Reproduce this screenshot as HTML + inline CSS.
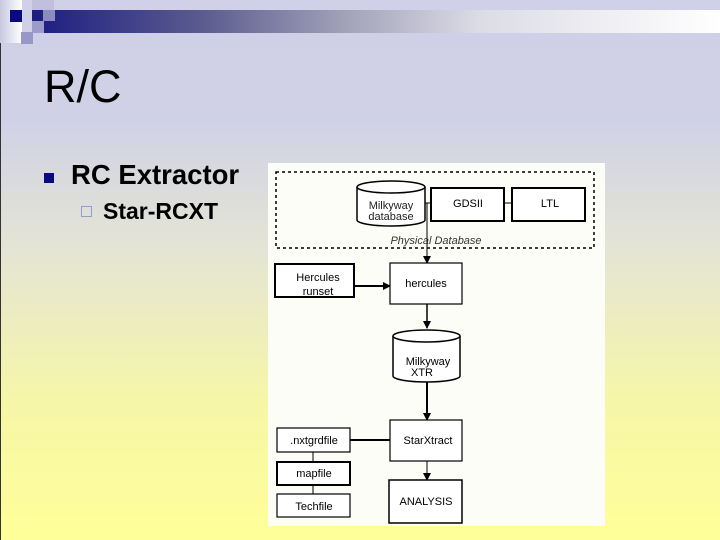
<!DOCTYPE html>
<html><head><meta charset="utf-8"><style>
html,body{margin:0;padding:0}
body{width:720px;height:540px;overflow:hidden;position:relative;font-family:"Liberation Sans",sans-serif;
background:linear-gradient(to bottom,#cfd0e8 0px,#d0d1e6 120px,#e4e5d4 250px,#f6f6a8 400px,#ffff99 540px);}
.a{position:absolute}
</style></head><body>
<div class="a" style="left:0;top:0;width:720px;height:10px;background:#d0d1e8"></div>
<div class="a" style="left:32px;top:10px;width:688px;height:23px;background:linear-gradient(to right,#1c1c82 0%,#5c5c90 25%,#a0a0b8 45%,#dcdce6 65%,#ffffff 100%)"></div>
<div class="a" style="left:0;top:0;width:22px;height:43px;background:linear-gradient(to right,#c8c8e0,#ffffff)"></div>
<div class="a" style="left:10px;top:10px;width:12px;height:12px;background:#0a0a80"></div>
<div class="a" style="left:32px;top:0;width:22px;height:10px;background:#c0c0dc"></div>
<div class="a" style="left:43px;top:10px;width:12px;height:11px;background:#8c8cc0"></div>
<div class="a" style="left:32px;top:21px;width:12px;height:12px;background:#9c9cca"></div>
<div class="a" style="left:21px;top:32px;width:12px;height:12px;background:#9898c8"></div>
<div class="a" style="left:0;top:43px;width:1px;height:497px;background:#333"></div>
<div class="a" style="left:44px;top:61px;font-size:45px;color:#000">R/C</div>
<div class="a" style="left:44px;top:173px;width:10px;height:10px;background:#0a0a80"></div>
<div class="a" style="left:71px;top:159px;font-size:27.5px;font-weight:bold">RC Extractor</div>
<div class="a" style="left:81px;top:206px;border:1px solid #9a9ac8;box-sizing:border-box;width:11px;height:11px"></div>
<div class="a" style="left:103px;top:198px;font-size:23px;font-weight:bold">Star-RCXT</div>
<svg class="a" style="left:0;top:0" width="720" height="540" font-family="Liberation Sans, sans-serif" font-size="11">
<defs><marker id="ar" markerWidth="8" markerHeight="8" refX="7" refY="4" orient="auto" markerUnits="userSpaceOnUse"><path d="M0,0L8,4L0,8z" fill="#000"/></marker></defs>
<rect x="268" y="163" width="337" height="363" fill="#fdfdf8"/>
<rect x="276" y="172" width="318" height="76" fill="none" stroke="#000" stroke-width="1.5" stroke-dasharray="3,3"/>
<path d="M357,187 A34,6 0 0 1 425,187 L425,220 A34,6 0 0 1 357,220 Z" fill="#fff" stroke="#000" stroke-width="1.5"/>
<path d="M357,187 A34,6 0 0 0 425,187" fill="none" stroke="#000" stroke-width="1.5"/>
<text x="391" y="209" text-anchor="middle" fill="#222">Milkyway</text>
<text x="391" y="220" text-anchor="middle" fill="#222">database</text>
<rect x="431" y="188" width="73" height="33" fill="#fff" stroke="#000" stroke-width="2"/>
<text x="468" y="207" text-anchor="middle">GDSII</text>
<rect x="512" y="188" width="73" height="33" fill="#fff" stroke="#000" stroke-width="2"/>
<text x="550" y="207" text-anchor="middle">LTL</text>
<line x1="504" y1="203" x2="512" y2="203" stroke="#000"/>
<line x1="425" y1="203" x2="431" y2="203" stroke="#000"/>
<line x1="427" y1="203" x2="427" y2="263" stroke="#000" marker-end="url(#ar)"/>
<text x="436" y="244" text-anchor="middle" font-style="italic" fill="#333">Physical Database</text>
<rect x="275" y="264" width="79" height="33" fill="#fff" stroke="#000" stroke-width="2"/>
<text x="318" y="281" text-anchor="middle">Hercules</text>
<text x="318" y="295" text-anchor="middle">runset</text>
<line x1="354" y1="286" x2="390" y2="286" stroke="#000" stroke-width="2" marker-end="url(#ar)"/>
<rect x="390" y="263" width="72" height="41" fill="#fff" stroke="#000" stroke-width="1.2"/>
<text x="426" y="287" text-anchor="middle">hercules</text>
<line x1="427" y1="304" x2="427" y2="328" stroke="#000" stroke-width="1.5" marker-end="url(#ar)"/>
<path d="M393,336 A33.5,6 0 0 1 460,336 L460,376 A33.5,6 0 0 1 393,376 Z" fill="#fff" stroke="#000" stroke-width="1.5"/>
<path d="M393,336 A33.5,6 0 0 0 460,336" fill="none" stroke="#000" stroke-width="1.5"/>
<text x="428" y="365" text-anchor="middle">Milkyway</text>
<text x="422" y="376" text-anchor="middle">XTR</text>
<line x1="427" y1="382" x2="427" y2="420" stroke="#000" stroke-width="2" marker-end="url(#ar)"/>
<rect x="390" y="420" width="72" height="41" fill="#fff" stroke="#000" stroke-width="1.2"/>
<text x="428" y="444" text-anchor="middle">StarXtract</text>
<line x1="427" y1="461" x2="427" y2="480" stroke="#000" marker-end="url(#ar)"/>
<rect x="389" y="480" width="73" height="43" fill="#fff" stroke="#000" stroke-width="1.5"/>
<text x="426" y="505" text-anchor="middle">ANALYSIS</text>
<rect x="277" y="428" width="73" height="24" fill="#fff" stroke="#000" stroke-width="1.2"/>
<text x="314" y="444" text-anchor="middle">.nxtgrdfile</text>
<line x1="350" y1="440" x2="390" y2="440" stroke="#000" stroke-width="2"/>
<line x1="313" y1="452" x2="313" y2="462" stroke="#000"/>
<rect x="277" y="462" width="73" height="23" fill="#fff" stroke="#000" stroke-width="2"/>
<text x="314" y="477" text-anchor="middle">mapfile</text>
<line x1="313" y1="485" x2="313" y2="494" stroke="#000"/>
<rect x="277" y="494" width="73" height="23" fill="#fff" stroke="#000" stroke-width="1.2"/>
<text x="314" y="510" text-anchor="middle">Techfile</text>
</svg>
</body></html>
